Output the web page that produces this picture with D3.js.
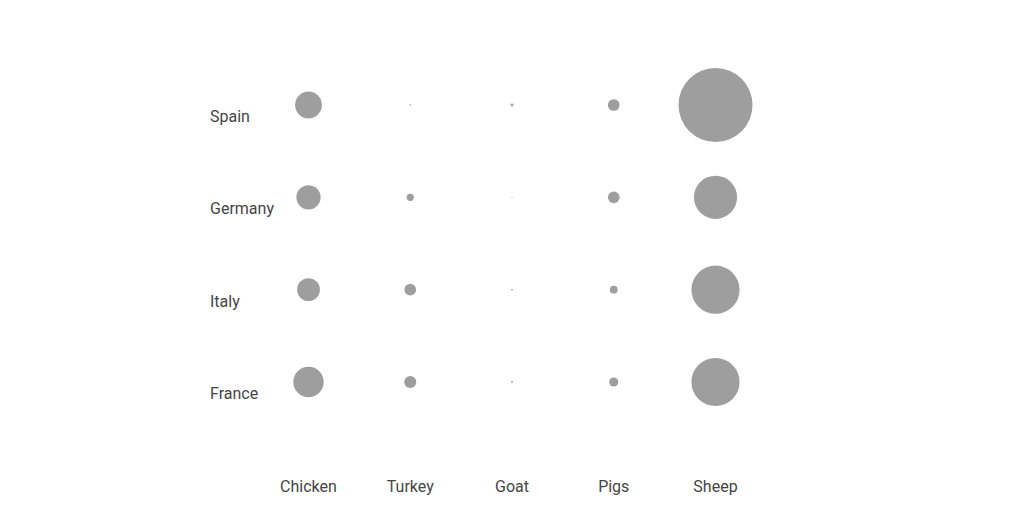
<!DOCTYPE html>
<html lang='en'>
<head>
<meta http-equiv='Content-Type' content='text/html;charset=utf-8'/>
<title>Livestock bubbles</title>
<script src='https://d3js.org/d3.v7.min.js'></script>
<style>
  html, body { margin: 0; padding: 0; background: #ffffff; }
  text { font-family: Roboto, 'Noto Sans', sans-serif; font-size: 16px; fill: #454545; }
</style>
</head>
<body>
<script>
'use strict'
const width = 1024
const height = 512

const countries = ['Spain', 'Germany', 'Italy', 'France']
const animals = ['Chicken', 'Turkey', 'Goat', 'Pigs', 'Sheep']

// one array per country, in the order of animals
const spain = [13.1, 0.05, 0.15, 2.5, 100]
const germany = [10.7, 0.95, 0.02, 2.5, 34.1]
const italy = [9.5, 2.5, 0.05, 1.1, 42.4]
const france = [16.9, 2.7, 0.06, 1.5, 42.4]
const rows = [spain, germany, italy, france]

const svg = d3.select('body').append('svg')
  .attr('width', width)
  .attr('height', height)

const x = d3.scalePoint().domain(animals).range([308.5, 715.5])
const y = d3.scalePoint().domain(countries).range([105, 382])
const r = d3.scaleSqrt().domain([0, d3.max(rows, d => d3.max(d))]).range([0, 37])

const cells = []
rows.forEach((vals, i) => {
  vals.forEach((v, j) => cells.push({country: countries[i], animal: animals[j], value: v}))
})

svg.append('g').selectAll('circle')
  .data(cells)
  .join('circle')
    .attr('cx', d => x(d.animal))
    .attr('cy', d => y(d.country))
    .attr('r', d => r(d.value))
    .attr('fill', '#9e9e9e')

// row labels sit left of the first column, a little below the row centre
svg.append('g').selectAll('text')
  .data(countries)
  .join('text')
    .attr('x', 210)
    .attr('y', d => y(d) + 17)
    .text(d => d)

// column labels along the bottom
svg.append('g').selectAll('text')
  .data(animals)
  .join('text')
    .attr('x', d => x(d))
    .attr('y', 492)
    .attr('text-anchor', 'middle')
    .text(d => d)
</script>
</body>
</html>
